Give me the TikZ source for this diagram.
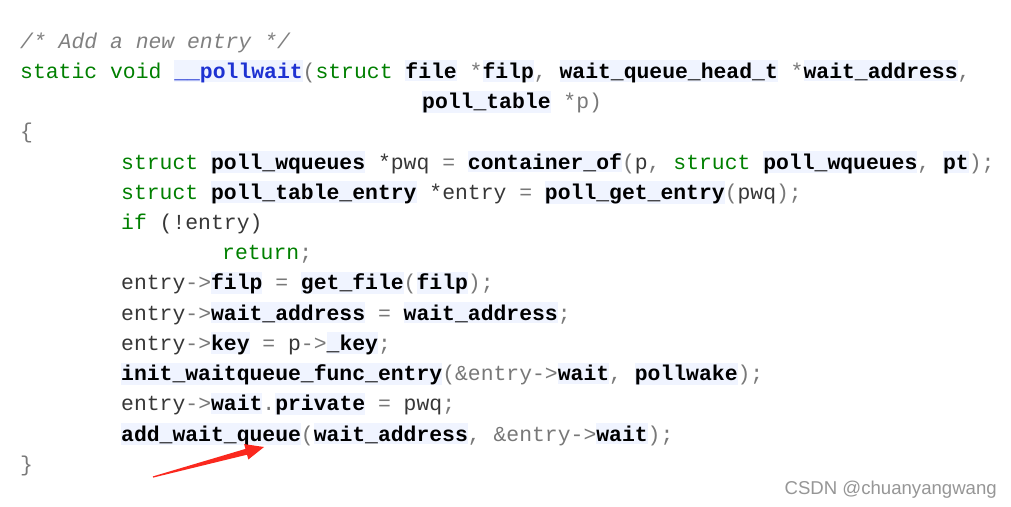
\documentclass[tikz,border=0pt]{standalone}
\usepackage{fontspec}
\usepackage{tikz}
\usetikzlibrary{calc}
\setmainfont{Liberation Sans}
\newfontfamily\codefont{Liberation Mono}
\definecolor{kwgreen}{RGB}{0,128,0}
\definecolor{hlblue}{RGB}{240,244,255}
\definecolor{fnblue}{RGB}{30,50,210}
\definecolor{cmgray}{RGB}{128,128,128}
\definecolor{pngray}{RGB}{120,120,120}
\definecolor{txgray}{RGB}{55,55,55}
\definecolor{arrowred}{RGB}{250,40,30}
\definecolor{markgray}{RGB}{150,150,150}
\setlength{\fboxsep}{0pt}
\newcommand{\kw}[1]{\textcolor{kwgreen}{#1}}
\newcommand{\cm}[1]{\textcolor{cmgray}{\itshape #1}}
\newcommand{\pn}[1]{\textcolor{pngray}{#1}}
\newcommand{\tx}[1]{\textcolor{txgray}{#1}}
\newcommand{\id}[1]{\colorbox{hlblue}{\vrule height 18pt depth 3pt width 0pt\textbf{#1}}}
\newcommand{\fn}[1]{\colorbox{hlblue}{\vrule height 18pt depth 3pt width 0pt\textcolor{fnblue}{\textbf{#1}}}}
\tikzset{code/.style={anchor=base west, inner sep=0pt, font=\codefont\fontsize{21.4}{30}\selectfont\frenchspacing}}

\begin{document}
\begin{tikzpicture}[x=1pt, y=-1pt]
    \fill[white] (0,0) rectangle (1011,506);
    \useasboundingbox (0,0) rectangle (1011,506);
    % source lines
    \node[code] (l1) at (20,48) {\cm{/* Add a new entry */}};
    \node[code] (l2) at (20,78) {\kw{static void} \fn{\_\_pollwait}\pn{(}\kw{struct} \id{file} \pn{*}\id{filp}\pn{,} \id{wait\_queue\_head\_t} \pn{*}\id{wait\_address}\pn{,}};
    \node[code] (l3) at (422,108.5) {\id{poll\_table} \pn{*p)}};
    \node[code] (l4) at (20,138.5) {\pn{\{}};
    \node[code] (l5) at (121,169) {\kw{struct} \id{poll\_wqueues} \tx{*pwq} \pn{=} \id{container\_of}\pn{(}\tx{p}\pn{,} \kw{struct} \id{poll\_wqueues}\pn{,} \id{pt}\pn{);}};
    \node[code] (l6) at (121,199) {\kw{struct} \id{poll\_table\_entry} \tx{*entry} \pn{=} \id{poll\_get\_entry}\pn{(}\tx{pwq}\pn{);}};
    \node[code] (l7) at (121,229.5) {\kw{if} \tx{(!entry)}};
    \node[code] (l8) at (222,259.5) {\kw{return}\pn{;}};
    \node[code] (l9) at (121,289.5) {\tx{entry}\pn{->}\id{filp} \pn{=} \id{get\_file}\pn{(}\id{filp}\pn{);}};
    \node[code] (l10) at (121,320) {\tx{entry}\pn{->}\id{wait\_address} \pn{=} \id{wait\_address}\pn{;}};
    \node[code] (l11) at (121,350) {\tx{entry}\pn{->}\id{key} \pn{=} \tx{p}\pn{->}\id{\_key}\pn{;}};
    \node[code] (l12) at (121,380.5) {\id{init\_waitqueue\_func\_entry}\pn{(\&entry->}\id{wait}\pn{,} \id{pollwake}\pn{);}};
    \node[code] (l13) at (121,410.5) {\tx{entry}\pn{->}\id{wait}\pn{.}\id{private} \pn{=} \tx{pwq}\pn{;}};
    \node[code] (l14) at (121,441) {\id{add\_wait\_queue}\pn{(}\id{wait\_address}\pn{,} \pn{\&entry->}\id{wait}\pn{);}};
    \node[code] (l15) at (20,471) {\pn{\}}};
    % red marker arrow
    \coordinate (tail) at (153,477);
    \coordinate (tip) at (264,447);
    \coordinate (neck) at ($(tail)!0.84!(tip)$);
    \fill[arrowred] ($(tail)!0.6pt!90:(tip)$) -- ($(neck)!3pt!90:(tip)$) -- ($(neck)!8pt!90:(tip)$) -- (tip)
      -- ($(neck)!8pt!-90:(tip)$) -- ($(neck)!3pt!-90:(tip)$) -- ($(tail)!0.6pt!-90:(tip)$) -- cycle;
    \node[anchor=base east, inner sep=0pt, text=markgray, font=\fontsize{18.6}{20}\selectfont] (mark) at (997,494) {CSDN @chuanyangwang};
\end{tikzpicture}
\end{document}
